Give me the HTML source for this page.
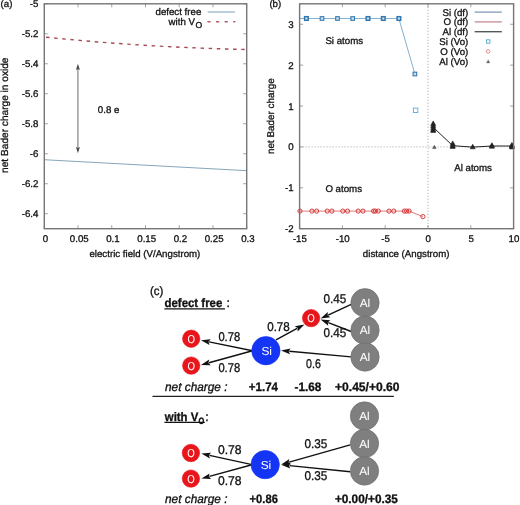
<!DOCTYPE html>
<html><head><meta charset="utf-8"><title>Bader charge figure</title>
<style>
html,body{margin:0;padding:0;background:#fff;}
body{width:520px;height:505px;overflow:hidden;}
svg{display:block;font-family:"Liberation Sans", Arial, sans-serif;text-rendering:geometricPrecision;}
</style></head><body>
<svg width="520" height="505" viewBox="0 0 520 505">
<rect width="520" height="505" fill="#fff"/>
<text x="0.6" y="7.4" font-size="9.7" fill="#111" stroke="#111" stroke-width="0.3">(a)</text>
<line x1="44.3" y1="3.80" x2="47.8" y2="3.80" stroke="#8a8a8a" stroke-width="0.8"/>
<line x1="246.7" y1="3.80" x2="243.2" y2="3.80" stroke="#8a8a8a" stroke-width="0.8"/>
<text x="38.4" y="7.30" font-size="9.7" fill="#111" text-anchor="end" stroke="#111" stroke-width="0.3">-5</text>
<line x1="44.3" y1="33.79" x2="47.8" y2="33.79" stroke="#8a8a8a" stroke-width="0.8"/>
<line x1="246.7" y1="33.79" x2="243.2" y2="33.79" stroke="#8a8a8a" stroke-width="0.8"/>
<text x="38.4" y="37.29" font-size="9.7" fill="#111" text-anchor="end" stroke="#111" stroke-width="0.3">-5.2</text>
<line x1="44.3" y1="63.77" x2="47.8" y2="63.77" stroke="#8a8a8a" stroke-width="0.8"/>
<line x1="246.7" y1="63.77" x2="243.2" y2="63.77" stroke="#8a8a8a" stroke-width="0.8"/>
<text x="38.4" y="67.27" font-size="9.7" fill="#111" text-anchor="end" stroke="#111" stroke-width="0.3">-5.4</text>
<line x1="44.3" y1="93.76" x2="47.8" y2="93.76" stroke="#8a8a8a" stroke-width="0.8"/>
<line x1="246.7" y1="93.76" x2="243.2" y2="93.76" stroke="#8a8a8a" stroke-width="0.8"/>
<text x="38.4" y="97.26" font-size="9.7" fill="#111" text-anchor="end" stroke="#111" stroke-width="0.3">-5.6</text>
<line x1="44.3" y1="123.75" x2="47.8" y2="123.75" stroke="#8a8a8a" stroke-width="0.8"/>
<line x1="246.7" y1="123.75" x2="243.2" y2="123.75" stroke="#8a8a8a" stroke-width="0.8"/>
<text x="38.4" y="127.25" font-size="9.7" fill="#111" text-anchor="end" stroke="#111" stroke-width="0.3">-5.8</text>
<line x1="44.3" y1="153.73" x2="47.8" y2="153.73" stroke="#8a8a8a" stroke-width="0.8"/>
<line x1="246.7" y1="153.73" x2="243.2" y2="153.73" stroke="#8a8a8a" stroke-width="0.8"/>
<text x="38.4" y="157.23" font-size="9.7" fill="#111" text-anchor="end" stroke="#111" stroke-width="0.3">-6</text>
<line x1="44.3" y1="183.72" x2="47.8" y2="183.72" stroke="#8a8a8a" stroke-width="0.8"/>
<line x1="246.7" y1="183.72" x2="243.2" y2="183.72" stroke="#8a8a8a" stroke-width="0.8"/>
<text x="38.4" y="187.22" font-size="9.7" fill="#111" text-anchor="end" stroke="#111" stroke-width="0.3">-6.2</text>
<line x1="44.3" y1="213.71" x2="47.8" y2="213.71" stroke="#8a8a8a" stroke-width="0.8"/>
<line x1="246.7" y1="213.71" x2="243.2" y2="213.71" stroke="#8a8a8a" stroke-width="0.8"/>
<text x="38.4" y="217.21" font-size="9.7" fill="#111" text-anchor="end" stroke="#111" stroke-width="0.3">-6.4</text>
<line x1="44.30" y1="228.7" x2="44.30" y2="225.2" stroke="#8a8a8a" stroke-width="0.8"/>
<line x1="44.30" y1="3.8" x2="44.30" y2="7.3" stroke="#8a8a8a" stroke-width="0.8"/>
<text x="45.50" y="242.4" font-size="9.7" fill="#111" text-anchor="middle" stroke="#111" stroke-width="0.3">0</text>
<line x1="78.03" y1="228.7" x2="78.03" y2="225.2" stroke="#8a8a8a" stroke-width="0.8"/>
<line x1="78.03" y1="3.8" x2="78.03" y2="7.3" stroke="#8a8a8a" stroke-width="0.8"/>
<text x="79.23" y="242.4" font-size="9.7" fill="#111" text-anchor="middle" stroke="#111" stroke-width="0.3">0.05</text>
<line x1="111.77" y1="228.7" x2="111.77" y2="225.2" stroke="#8a8a8a" stroke-width="0.8"/>
<line x1="111.77" y1="3.8" x2="111.77" y2="7.3" stroke="#8a8a8a" stroke-width="0.8"/>
<text x="112.97" y="242.4" font-size="9.7" fill="#111" text-anchor="middle" stroke="#111" stroke-width="0.3">0.1</text>
<line x1="145.50" y1="228.7" x2="145.50" y2="225.2" stroke="#8a8a8a" stroke-width="0.8"/>
<line x1="145.50" y1="3.8" x2="145.50" y2="7.3" stroke="#8a8a8a" stroke-width="0.8"/>
<text x="146.70" y="242.4" font-size="9.7" fill="#111" text-anchor="middle" stroke="#111" stroke-width="0.3">0.15</text>
<line x1="179.23" y1="228.7" x2="179.23" y2="225.2" stroke="#8a8a8a" stroke-width="0.8"/>
<line x1="179.23" y1="3.8" x2="179.23" y2="7.3" stroke="#8a8a8a" stroke-width="0.8"/>
<text x="180.43" y="242.4" font-size="9.7" fill="#111" text-anchor="middle" stroke="#111" stroke-width="0.3">0.2</text>
<line x1="212.97" y1="228.7" x2="212.97" y2="225.2" stroke="#8a8a8a" stroke-width="0.8"/>
<line x1="212.97" y1="3.8" x2="212.97" y2="7.3" stroke="#8a8a8a" stroke-width="0.8"/>
<text x="214.17" y="242.4" font-size="9.7" fill="#111" text-anchor="middle" stroke="#111" stroke-width="0.3">0.25</text>
<line x1="246.70" y1="228.7" x2="246.70" y2="225.2" stroke="#8a8a8a" stroke-width="0.8"/>
<line x1="246.70" y1="3.8" x2="246.70" y2="7.3" stroke="#8a8a8a" stroke-width="0.8"/>
<text x="247.90" y="242.4" font-size="9.7" fill="#111" text-anchor="middle" stroke="#111" stroke-width="0.3">0.3</text>
<text x="144.9" y="257.0" font-size="9.7" fill="#111" text-anchor="middle" stroke="#111" stroke-width="0.3">electric field (V/Angstrom)</text>
<text transform="translate(7.8,115.2) rotate(-90)" font-size="10.15" fill="#111" text-anchor="middle" stroke="#111" stroke-width="0.3">net Bader charge in oxide</text>
<line x1="44.30" y1="159.73" x2="246.70" y2="170.68" stroke="#86a6ba" stroke-width="1"/>
<path d="M44.3,37.04 Q145.5,47.36 246.7,49.53" fill="none" stroke="#a84a55" stroke-width="1.4" stroke-dasharray="3.5 4.65" stroke-dashoffset="6.4"/>
<text x="201.3" y="15.4" font-size="9.7" fill="#111" text-anchor="end" stroke="#111" stroke-width="0.3">defect free</text>
<text x="195.0" y="24.5" font-size="9.7" fill="#111" text-anchor="end" stroke="#111" stroke-width="0.3">with V</text>
<text x="195.6" y="27.9" font-size="8.6" fill="#111" stroke="#111" stroke-width="0.3">O</text>
<line x1="207.6" y1="12.0" x2="234.9" y2="12.0" stroke="#86a6ba" stroke-width="1.1"/>
<line x1="207.4" y1="21.8" x2="235.4" y2="21.8" stroke="#b0606a" stroke-width="1.4" stroke-dasharray="3.2 5.4"/>
<line x1="77.9" y1="67.8" x2="77.9" y2="149.2" stroke="#9c9c9c" stroke-width="1.5"/>
<path d="M77.9,63.8 L79.9,70.1 L77.9,69.1 L75.9,70.1 Z" fill="#4a4a4a"/>
<path d="M77.9,153.2 L79.9,146.89999999999998 L77.9,147.89999999999998 L75.9,146.89999999999998 Z" fill="#4a4a4a"/>
<text x="97.8" y="113.2" font-size="9.7" fill="#111" stroke="#111" stroke-width="0.3">0.8 e</text>
<rect x="44.3" y="3.8" width="202.40" height="224.90" fill="none" stroke="#767676" stroke-width="1.4"/>
<text x="269.4" y="7.4" font-size="9.7" fill="#111" stroke="#111" stroke-width="0.3">(b)</text>
<line x1="428.00" y1="3.8" x2="428.00" y2="228.7" stroke="#999" stroke-width="0.9" stroke-dasharray="1 2"/>
<line x1="299.6" y1="146.92" x2="513.6" y2="146.92" stroke="#999" stroke-width="0.9" stroke-dasharray="1 2"/>
<line x1="299.6" y1="24.25" x2="303.1" y2="24.25" stroke="#8a8a8a" stroke-width="0.8"/>
<line x1="513.6" y1="24.25" x2="510.1" y2="24.25" stroke="#8a8a8a" stroke-width="0.8"/>
<text x="293.6" y="27.75" font-size="9.7" fill="#111" text-anchor="end" stroke="#111" stroke-width="0.3">3</text>
<line x1="299.6" y1="65.14" x2="303.1" y2="65.14" stroke="#8a8a8a" stroke-width="0.8"/>
<line x1="513.6" y1="65.14" x2="510.1" y2="65.14" stroke="#8a8a8a" stroke-width="0.8"/>
<text x="293.6" y="68.64" font-size="9.7" fill="#111" text-anchor="end" stroke="#111" stroke-width="0.3">2</text>
<line x1="299.6" y1="106.03" x2="303.1" y2="106.03" stroke="#8a8a8a" stroke-width="0.8"/>
<line x1="513.6" y1="106.03" x2="510.1" y2="106.03" stroke="#8a8a8a" stroke-width="0.8"/>
<text x="293.6" y="109.53" font-size="9.7" fill="#111" text-anchor="end" stroke="#111" stroke-width="0.3">1</text>
<line x1="299.6" y1="146.92" x2="303.1" y2="146.92" stroke="#8a8a8a" stroke-width="0.8"/>
<line x1="513.6" y1="146.92" x2="510.1" y2="146.92" stroke="#8a8a8a" stroke-width="0.8"/>
<text x="293.6" y="150.42" font-size="9.7" fill="#111" text-anchor="end" stroke="#111" stroke-width="0.3">0</text>
<line x1="299.6" y1="187.81" x2="303.1" y2="187.81" stroke="#8a8a8a" stroke-width="0.8"/>
<line x1="513.6" y1="187.81" x2="510.1" y2="187.81" stroke="#8a8a8a" stroke-width="0.8"/>
<text x="293.6" y="191.31" font-size="9.7" fill="#111" text-anchor="end" stroke="#111" stroke-width="0.3">-1</text>
<line x1="299.6" y1="228.70" x2="303.1" y2="228.70" stroke="#8a8a8a" stroke-width="0.8"/>
<line x1="513.6" y1="228.70" x2="510.1" y2="228.70" stroke="#8a8a8a" stroke-width="0.8"/>
<text x="293.6" y="232.20" font-size="9.7" fill="#111" text-anchor="end" stroke="#111" stroke-width="0.3">-2</text>
<line x1="299.60" y1="228.7" x2="299.60" y2="225.2" stroke="#8a8a8a" stroke-width="0.8"/>
<line x1="299.60" y1="3.8" x2="299.60" y2="7.3" stroke="#8a8a8a" stroke-width="0.8"/>
<text x="299.90" y="242.4" font-size="9.7" fill="#111" text-anchor="middle" stroke="#111" stroke-width="0.3">-15</text>
<line x1="342.40" y1="228.7" x2="342.40" y2="225.2" stroke="#8a8a8a" stroke-width="0.8"/>
<line x1="342.40" y1="3.8" x2="342.40" y2="7.3" stroke="#8a8a8a" stroke-width="0.8"/>
<text x="342.70" y="242.4" font-size="9.7" fill="#111" text-anchor="middle" stroke="#111" stroke-width="0.3">-10</text>
<line x1="385.20" y1="228.7" x2="385.20" y2="225.2" stroke="#8a8a8a" stroke-width="0.8"/>
<line x1="385.20" y1="3.8" x2="385.20" y2="7.3" stroke="#8a8a8a" stroke-width="0.8"/>
<text x="385.50" y="242.4" font-size="9.7" fill="#111" text-anchor="middle" stroke="#111" stroke-width="0.3">-5</text>
<line x1="428.00" y1="228.7" x2="428.00" y2="225.2" stroke="#8a8a8a" stroke-width="0.8"/>
<line x1="428.00" y1="3.8" x2="428.00" y2="7.3" stroke="#8a8a8a" stroke-width="0.8"/>
<text x="428.30" y="242.4" font-size="9.7" fill="#111" text-anchor="middle" stroke="#111" stroke-width="0.3">0</text>
<line x1="470.80" y1="228.7" x2="470.80" y2="225.2" stroke="#8a8a8a" stroke-width="0.8"/>
<line x1="470.80" y1="3.8" x2="470.80" y2="7.3" stroke="#8a8a8a" stroke-width="0.8"/>
<text x="471.10" y="242.4" font-size="9.7" fill="#111" text-anchor="middle" stroke="#111" stroke-width="0.3">5</text>
<line x1="513.60" y1="228.7" x2="513.60" y2="225.2" stroke="#8a8a8a" stroke-width="0.8"/>
<line x1="513.60" y1="3.8" x2="513.60" y2="7.3" stroke="#8a8a8a" stroke-width="0.8"/>
<text x="513.90" y="242.4" font-size="9.7" fill="#111" text-anchor="middle" stroke="#111" stroke-width="0.3">10</text>
<text x="406.2" y="257.0" font-size="9.7" fill="#111" text-anchor="middle" stroke="#111" stroke-width="0.3">distance (Angstrom)</text>
<text transform="translate(274.4,116.2) rotate(-90)" font-size="9.9" fill="#111" text-anchor="middle" stroke="#111" stroke-width="0.3">net Bader charge</text>
<text x="325.4" y="44.0" font-size="9.7" fill="#111" stroke="#111" stroke-width="0.3">Si atoms</text>
<text x="325.4" y="191.8" font-size="9.7" fill="#111" stroke="#111" stroke-width="0.3">O atoms</text>
<text x="454.2" y="171.2" font-size="9.7" fill="#111" stroke="#111" stroke-width="0.3">Al atoms</text>
<polyline points="299.6,18.5 306.4,18.5 322.0,18.5 337.5,18.5 352.7,18.5 368.0,18.5 383.3,18.5 398.9,18.5 414.9,74.0" fill="none" stroke="#74a8cc" stroke-width="0.9"/>
<rect x="304.6" y="16.7" width="3.6" height="3.6" fill="#cfe4f2" stroke="#3478b0" stroke-width="1.5"/>
<rect x="320.2" y="16.7" width="3.6" height="3.6" fill="#cfe4f2" stroke="#3478b0" stroke-width="1.1"/>
<rect x="335.7" y="16.7" width="3.6" height="3.6" fill="#cfe4f2" stroke="#3478b0" stroke-width="1.1"/>
<rect x="350.9" y="16.7" width="3.6" height="3.6" fill="#cfe4f2" stroke="#3478b0" stroke-width="1.1"/>
<rect x="366.2" y="16.7" width="3.6" height="3.6" fill="#cfe4f2" stroke="#3478b0" stroke-width="1.5"/>
<rect x="381.5" y="16.7" width="3.6" height="3.6" fill="#cfe4f2" stroke="#3478b0" stroke-width="1.5"/>
<rect x="397.1" y="16.7" width="3.6" height="3.6" fill="#cfe4f2" stroke="#3478b0" stroke-width="1.5"/>
<rect x="413.1" y="72.2" width="3.6" height="3.6" fill="#cfe4f2" stroke="#3478b0" stroke-width="1.1"/>
<rect x="413.4" y="108.1" width="4.4" height="4.4" fill="none" stroke="#6fb0d8" stroke-width="1"/>
<polyline points="300.0,211.1 311.9,211.1 316.6,211.1 327.2,211.1 331.9,211.1 342.8,211.1 347.5,211.1 358.2,211.1 362.9,211.1 373.6,211.1 378.3,211.1 389.0,211.1 393.7,211.1 404.4,211.1 409.1,211.1 422.9,216.6" fill="none" stroke="#e27a7a" stroke-width="1"/>
<circle cx="300.0" cy="211.1" r="2.1" fill="none" stroke="#d83a3a" stroke-width="1"/>
<circle cx="311.9" cy="211.1" r="2.1" fill="none" stroke="#d83a3a" stroke-width="1"/>
<circle cx="316.6" cy="211.1" r="2.1" fill="none" stroke="#d83a3a" stroke-width="1"/>
<circle cx="327.2" cy="211.1" r="2.1" fill="none" stroke="#d83a3a" stroke-width="1"/>
<circle cx="331.9" cy="211.1" r="2.1" fill="none" stroke="#d83a3a" stroke-width="1"/>
<circle cx="342.8" cy="211.1" r="2.1" fill="none" stroke="#d83a3a" stroke-width="1"/>
<circle cx="347.5" cy="211.1" r="2.1" fill="none" stroke="#d83a3a" stroke-width="1"/>
<circle cx="358.2" cy="211.1" r="2.1" fill="none" stroke="#d83a3a" stroke-width="1"/>
<circle cx="362.9" cy="211.1" r="2.1" fill="none" stroke="#d83a3a" stroke-width="1"/>
<circle cx="373.6" cy="211.1" r="2.1" fill="none" stroke="#d83a3a" stroke-width="1"/>
<circle cx="378.3" cy="211.1" r="2.1" fill="none" stroke="#d83a3a" stroke-width="1"/>
<circle cx="389.0" cy="211.1" r="2.1" fill="none" stroke="#d83a3a" stroke-width="1"/>
<circle cx="393.7" cy="211.1" r="2.1" fill="none" stroke="#d83a3a" stroke-width="1"/>
<circle cx="404.4" cy="211.1" r="2.1" fill="none" stroke="#d83a3a" stroke-width="1"/>
<circle cx="409.1" cy="211.1" r="2.1" fill="none" stroke="#d83a3a" stroke-width="1"/>
<circle cx="422.9" cy="216.6" r="2.1" fill="none" stroke="#d83a3a" stroke-width="1"/>
<circle cx="375.3" cy="211.1" r="2.1" fill="none" stroke="#d83a3a" stroke-width="1"/>
<circle cx="406.6" cy="211.1" r="2.1" fill="none" stroke="#d83a3a" stroke-width="1"/>
<polyline points="435.0,129.0 452.7,145.7 472.7,147.1 491.9,146.0 511.9,146.0" fill="none" stroke="#222" stroke-width="1"/>
<path d="M433.2,120.9 L435.7,125.5 L430.7,125.5 Z" fill="#222" stroke="#222" stroke-width="0.6"/>
<path d="M433.2,122.9 L435.7,127.5 L430.7,127.5 Z" fill="#222" stroke="#222" stroke-width="0.6"/>
<path d="M433.2,124.9 L435.7,129.4 L430.7,129.4 Z" fill="#222" stroke="#222" stroke-width="0.6"/>
<path d="M433.2,126.9 L435.7,131.4 L430.7,131.4 Z" fill="#222" stroke="#222" stroke-width="0.6"/>
<path d="M433.2,127.9 L435.7,132.4 L430.7,132.4 Z" fill="#222" stroke="#222" stroke-width="0.6"/>
<path d="M452.7,140.9 L455.2,145.4 L450.2,145.4 Z" fill="#222" stroke="#222" stroke-width="0.6"/>
<path d="M452.7,142.9 L455.2,147.4 L450.2,147.4 Z" fill="#222" stroke="#222" stroke-width="0.6"/>
<path d="M452.7,143.9 L455.2,148.4 L450.2,148.4 Z" fill="#222" stroke="#222" stroke-width="0.6"/>
<path d="M472.7,144.2 L475.2,148.8 L470.2,148.8 Z" fill="#222" stroke="#222" stroke-width="0.6"/>
<path d="M491.9,142.7 L494.4,147.2 L489.4,147.2 Z" fill="#222" stroke="#222" stroke-width="0.6"/>
<path d="M491.9,143.7 L494.4,148.2 L489.4,148.2 Z" fill="#222" stroke="#222" stroke-width="0.6"/>
<path d="M511.9,142.4 L514.4,146.9 L509.4,146.9 Z" fill="#222" stroke="#222" stroke-width="0.6"/>
<path d="M511.9,143.4 L514.4,147.9 L509.4,147.9 Z" fill="#222" stroke="#222" stroke-width="0.6"/>
<path d="M511.9,144.4 L514.4,148.9 L509.4,148.9 Z" fill="#222" stroke="#222" stroke-width="0.6"/>
<path d="M434.4,145.3 L436.2,148.6 L432.6,148.6 Z" fill="#555" stroke="#555" stroke-width="0.5"/>
<text x="468.3" y="15.5" font-size="9.7" fill="#111" text-anchor="end" stroke="#111" stroke-width="0.3">Si (df)</text>
<text x="468.3" y="25.3" font-size="9.7" fill="#111" text-anchor="end" stroke="#111" stroke-width="0.3">O (df)</text>
<text x="468.3" y="35.1" font-size="9.7" fill="#111" text-anchor="end" stroke="#111" stroke-width="0.3">Al (df)</text>
<text x="468.3" y="44.9" font-size="9.7" fill="#111" text-anchor="end" stroke="#111" stroke-width="0.3">Si (Vo)</text>
<text x="468.3" y="54.7" font-size="9.7" fill="#111" text-anchor="end" stroke="#111" stroke-width="0.3">O (Vo)</text>
<text x="468.3" y="64.5" font-size="9.7" fill="#111" text-anchor="end" stroke="#111" stroke-width="0.3">Al (Vo)</text>
<line x1="474.6" y1="12.1" x2="501.8" y2="12.1" stroke="#8aa2c0" stroke-width="1.4"/>
<line x1="474.6" y1="21.9" x2="501.8" y2="21.9" stroke="#c99498" stroke-width="1.4"/>
<line x1="474.6" y1="31.7" x2="501.8" y2="31.7" stroke="#525a55" stroke-width="1.4"/>
<rect x="486.5" y="39.8" width="3.4" height="3.4" fill="none" stroke="#48a4c0" stroke-width="0.85"/>
<circle cx="488.2" cy="51.4" r="1.75" fill="none" stroke="#d87868" stroke-width="0.85"/>
<path d="M488.2,59.8 L489.9,63.0 L486.5,63.0 Z" fill="#666" stroke="#666" stroke-width="0.3"/>
<rect x="299.6" y="3.8" width="214.00" height="224.90" fill="none" stroke="#767676" stroke-width="1.4"/>
<text x="150.0" y="295.2" font-size="12.2" text-anchor="start" font-weight="normal" font-style="normal" fill="#111" textLength="13.4" lengthAdjust="spacingAndGlyphs" stroke="#111" stroke-width="0.32">(c)</text>
<text x="164.5" y="307.0" font-size="12.3" text-anchor="start" font-weight="bold" font-style="normal" fill="#111" textLength="57.8" lengthAdjust="spacingAndGlyphs" stroke="#111" stroke-width="0.32">defect free</text>
<line x1="164.4" y1="308.8" x2="225.0" y2="308.8" stroke="#111" stroke-width="1.2"/>
<text x="226.6" y="307.0" font-size="12.3" text-anchor="start" font-weight="normal" font-style="normal" fill="#111" stroke="#111" stroke-width="0.32">:</text>
<text x="164.8" y="420.8" font-size="12.3" text-anchor="start" font-weight="bold" font-style="normal" fill="#111" textLength="33.5" lengthAdjust="spacingAndGlyphs" stroke="#111" stroke-width="0.32">with V</text>
<text x="198.5" y="423.6" font-size="9.2" text-anchor="start" font-weight="bold" font-style="normal" fill="#111" textLength="5.8" lengthAdjust="spacingAndGlyphs" stroke="#111" stroke-width="0.3">O</text>
<text x="205.2" y="420.8" font-size="12.3" text-anchor="start" font-weight="normal" font-style="normal" fill="#111" stroke="#111" stroke-width="0.32">:</text>
<line x1="164.4" y1="422.4" x2="204.8" y2="422.4" stroke="#111" stroke-width="1.1"/>
<line x1="152.5" y1="396.4" x2="393.8" y2="396.4" stroke="#222" stroke-width="1.4"/>
<line x1="252.5" y1="350.8" x2="209.1" y2="341.9" stroke="#111" stroke-width="1.4"/><path d="M201.0,340.2 L210.7,339.2 L208.5,341.8 L209.5,344.9 Z" fill="#111"/>
<line x1="252.5" y1="350.8" x2="209.0" y2="362.7" stroke="#111" stroke-width="1.4"/><path d="M201.0,364.9 L209.2,359.6 L208.4,362.9 L210.7,365.2 Z" fill="#111"/>
<line x1="276.0" y1="339.8" x2="297.1" y2="328.4" stroke="#111" stroke-width="1.4"/><path d="M304.4,324.4 L297.6,331.4 L297.6,328.1 L294.8,326.3 Z" fill="#111"/>
<line x1="351.2" y1="304.3" x2="328.1" y2="315.1" stroke="#111" stroke-width="1.4"/><path d="M320.6,318.6 L327.8,312.0 L327.6,315.3 L330.3,317.3 Z" fill="#111"/>
<line x1="351.2" y1="331.5" x2="328.3" y2="322.6" stroke="#111" stroke-width="1.4"/><path d="M320.6,319.6 L330.3,320.3 L327.8,322.4 L328.2,325.7 Z" fill="#111"/>
<line x1="351.2" y1="356.9" x2="289.3" y2="351.3" stroke="#111" stroke-width="1.4"/><path d="M281.0,350.5 L290.5,348.5 L288.7,351.2 L290.0,354.2 Z" fill="#111"/>
<circle cx="191.2" cy="338.7" r="8.7" fill="#e8151b" stroke="#e8151b" stroke-width="0.6"/><text x="191.2" y="342.72" font-size="11.5" text-anchor="middle" font-weight="normal" font-style="normal" fill="#fff" textLength="7.5" lengthAdjust="spacingAndGlyphs" stroke="#fff" stroke-width="0.05">O</text>
<circle cx="191.2" cy="365.6" r="8.7" fill="#e8151b" stroke="#e8151b" stroke-width="0.6"/><text x="191.2" y="369.62" font-size="11.5" text-anchor="middle" font-weight="normal" font-style="normal" fill="#fff" textLength="7.5" lengthAdjust="spacingAndGlyphs" stroke="#fff" stroke-width="0.05">O</text>
<circle cx="311.1" cy="318.1" r="8.7" fill="#e8151b" stroke="#e8151b" stroke-width="0.6"/><text x="311.1" y="322.12" font-size="11.5" text-anchor="middle" font-weight="normal" font-style="normal" fill="#fff" textLength="7.5" lengthAdjust="spacingAndGlyphs" stroke="#fff" stroke-width="0.05">O</text>
<circle cx="265.9" cy="350.7" r="14.2" fill="#1535f4" stroke="#1535f4" stroke-width="0.6"/><text x="266.7" y="354.72" font-size="11.5" text-anchor="middle" font-weight="normal" font-style="normal" fill="#fff" textLength="10.5" lengthAdjust="spacingAndGlyphs" stroke="#fff" stroke-width="0.05">Si</text>
<circle cx="365.0" cy="302.8" r="14.2" fill="#7f7f7f" stroke="#6a6a6a" stroke-width="0.6"/><text x="365.0" y="306.82" font-size="11.5" text-anchor="middle" font-weight="normal" font-style="normal" fill="#fff" textLength="10.5" lengthAdjust="spacingAndGlyphs" stroke="#fff" stroke-width="0.05">Al</text>
<circle cx="365.0" cy="330.2" r="14.2" fill="#7f7f7f" stroke="#6a6a6a" stroke-width="0.6"/><text x="365.0" y="334.22" font-size="11.5" text-anchor="middle" font-weight="normal" font-style="normal" fill="#fff" textLength="10.5" lengthAdjust="spacingAndGlyphs" stroke="#fff" stroke-width="0.05">Al</text>
<circle cx="365.0" cy="357.0" r="14.2" fill="#7f7f7f" stroke="#6a6a6a" stroke-width="0.6"/><text x="365.0" y="361.02" font-size="11.5" text-anchor="middle" font-weight="normal" font-style="normal" fill="#fff" textLength="10.5" lengthAdjust="spacingAndGlyphs" stroke="#fff" stroke-width="0.05">Al</text>
<text x="218.4" y="340.8" font-size="12.8" text-anchor="start" font-weight="normal" font-style="normal" fill="#111" textLength="21.8" lengthAdjust="spacingAndGlyphs" stroke="#111" stroke-width="0.32">0.78</text>
<text x="218.4" y="371.5" font-size="12.8" text-anchor="start" font-weight="normal" font-style="normal" fill="#111" textLength="21.8" lengthAdjust="spacingAndGlyphs" stroke="#111" stroke-width="0.32">0.78</text>
<text x="267.2" y="330.5" font-size="12.8" text-anchor="start" font-weight="normal" font-style="normal" fill="#111" textLength="22.6" lengthAdjust="spacingAndGlyphs" stroke="#111" stroke-width="0.32">0.78</text>
<text x="323.6" y="303.0" font-size="12.8" text-anchor="start" font-weight="normal" font-style="normal" fill="#111" textLength="22.8" lengthAdjust="spacingAndGlyphs" stroke="#111" stroke-width="0.32">0.45</text>
<text x="323.6" y="337.2" font-size="12.8" text-anchor="start" font-weight="normal" font-style="normal" fill="#111" textLength="22.8" lengthAdjust="spacingAndGlyphs" stroke="#111" stroke-width="0.32">0.45</text>
<text x="306.0" y="368.2" font-size="12.8" text-anchor="start" font-weight="normal" font-style="normal" fill="#111" textLength="14.8" lengthAdjust="spacingAndGlyphs" stroke="#111" stroke-width="0.32">0.6</text>
<text x="165.0" y="391.3" font-size="12.3" text-anchor="start" font-weight="normal" font-style="italic" fill="#111" textLength="62.5" lengthAdjust="spacingAndGlyphs" stroke="#111" stroke-width="0.32">net charge :</text>
<text x="248.8" y="391.3" font-size="12.3" text-anchor="start" font-weight="bold" font-style="normal" fill="#111" textLength="29.2" lengthAdjust="spacingAndGlyphs" stroke="#111" stroke-width="0.32">+1.74</text>
<text x="294.5" y="391.3" font-size="12.3" text-anchor="start" font-weight="bold" font-style="normal" fill="#111" textLength="26.8" lengthAdjust="spacingAndGlyphs" stroke="#111" stroke-width="0.32">-1.68</text>
<text x="335.0" y="391.3" font-size="12.3" text-anchor="start" font-weight="bold" font-style="normal" fill="#111" textLength="64.5" lengthAdjust="spacingAndGlyphs" stroke="#111" stroke-width="0.32">+0.45/+0.60</text>
<line x1="252.0" y1="464.6" x2="209.5" y2="455.4" stroke="#111" stroke-width="1.4"/><path d="M201.4,453.6 L211.1,452.7 L208.9,455.2 L209.9,458.4 Z" fill="#111"/>
<line x1="252.0" y1="464.8" x2="209.4" y2="476.4" stroke="#111" stroke-width="1.4"/><path d="M201.4,478.6 L209.6,473.4 L208.8,476.6 L211.1,479.0 Z" fill="#111"/>
<line x1="350.2" y1="444.8" x2="289.2" y2="462.1" stroke="#111" stroke-width="1.4"/><path d="M281.2,464.4 L289.4,459.1 L288.6,462.3 L290.9,464.6 Z" fill="#111"/>
<line x1="350.2" y1="471.7" x2="289.5" y2="465.6" stroke="#111" stroke-width="1.4"/><path d="M281.2,464.8 L290.7,462.8 L288.9,465.6 L290.2,468.6 Z" fill="#111"/>
<circle cx="190.9" cy="453.0" r="8.7" fill="#e8151b" stroke="#e8151b" stroke-width="0.6"/><text x="190.9" y="457.02" font-size="11.5" text-anchor="middle" font-weight="normal" font-style="normal" fill="#fff" textLength="7.5" lengthAdjust="spacingAndGlyphs" stroke="#fff" stroke-width="0.05">O</text>
<circle cx="190.9" cy="478.6" r="8.7" fill="#e8151b" stroke="#e8151b" stroke-width="0.6"/><text x="190.9" y="482.62" font-size="11.5" text-anchor="middle" font-weight="normal" font-style="normal" fill="#fff" textLength="7.5" lengthAdjust="spacingAndGlyphs" stroke="#fff" stroke-width="0.05">O</text>
<circle cx="265.2" cy="464.6" r="14.2" fill="#1535f4" stroke="#1535f4" stroke-width="0.6"/><text x="266.0" y="468.62" font-size="11.5" text-anchor="middle" font-weight="normal" font-style="normal" fill="#fff" textLength="10.5" lengthAdjust="spacingAndGlyphs" stroke="#fff" stroke-width="0.05">Si</text>
<circle cx="364.5" cy="416.0" r="14.2" fill="#7f7f7f" stroke="#6a6a6a" stroke-width="0.6"/><text x="364.5" y="420.02" font-size="11.5" text-anchor="middle" font-weight="normal" font-style="normal" fill="#fff" textLength="10.5" lengthAdjust="spacingAndGlyphs" stroke="#fff" stroke-width="0.05">Al</text>
<circle cx="364.5" cy="443.5" r="14.2" fill="#7f7f7f" stroke="#6a6a6a" stroke-width="0.6"/><text x="364.5" y="447.52" font-size="11.5" text-anchor="middle" font-weight="normal" font-style="normal" fill="#fff" textLength="10.5" lengthAdjust="spacingAndGlyphs" stroke="#fff" stroke-width="0.05">Al</text>
<circle cx="364.5" cy="471.0" r="14.2" fill="#7f7f7f" stroke="#6a6a6a" stroke-width="0.6"/><text x="364.5" y="475.02" font-size="11.5" text-anchor="middle" font-weight="normal" font-style="normal" fill="#fff" textLength="10.5" lengthAdjust="spacingAndGlyphs" stroke="#fff" stroke-width="0.05">Al</text>
<text x="217.9" y="453.9" font-size="12.8" text-anchor="start" font-weight="normal" font-style="normal" fill="#111" textLength="23.6" lengthAdjust="spacingAndGlyphs" stroke="#111" stroke-width="0.32">0.78</text>
<text x="217.9" y="484.9" font-size="12.8" text-anchor="start" font-weight="normal" font-style="normal" fill="#111" textLength="23.6" lengthAdjust="spacingAndGlyphs" stroke="#111" stroke-width="0.32">0.78</text>
<text x="304.4" y="448.4" font-size="12.8" text-anchor="start" font-weight="normal" font-style="normal" fill="#111" textLength="22.9" lengthAdjust="spacingAndGlyphs" stroke="#111" stroke-width="0.32">0.35</text>
<text x="304.4" y="479.9" font-size="12.8" text-anchor="start" font-weight="normal" font-style="normal" fill="#111" textLength="22.9" lengthAdjust="spacingAndGlyphs" stroke="#111" stroke-width="0.32">0.35</text>
<text x="165.0" y="502.6" font-size="12.3" text-anchor="start" font-weight="normal" font-style="italic" fill="#111" textLength="62.5" lengthAdjust="spacingAndGlyphs" stroke="#111" stroke-width="0.32">net charge :</text>
<text x="249.6" y="502.6" font-size="12.3" text-anchor="start" font-weight="bold" font-style="normal" fill="#111" textLength="28.3" lengthAdjust="spacingAndGlyphs" stroke="#111" stroke-width="0.32">+0.86</text>
<text x="334.9" y="502.6" font-size="12.3" text-anchor="start" font-weight="bold" font-style="normal" fill="#111" textLength="63.0" lengthAdjust="spacingAndGlyphs" stroke="#111" stroke-width="0.32">+0.00/+0.35</text>
</svg>
</body></html>
